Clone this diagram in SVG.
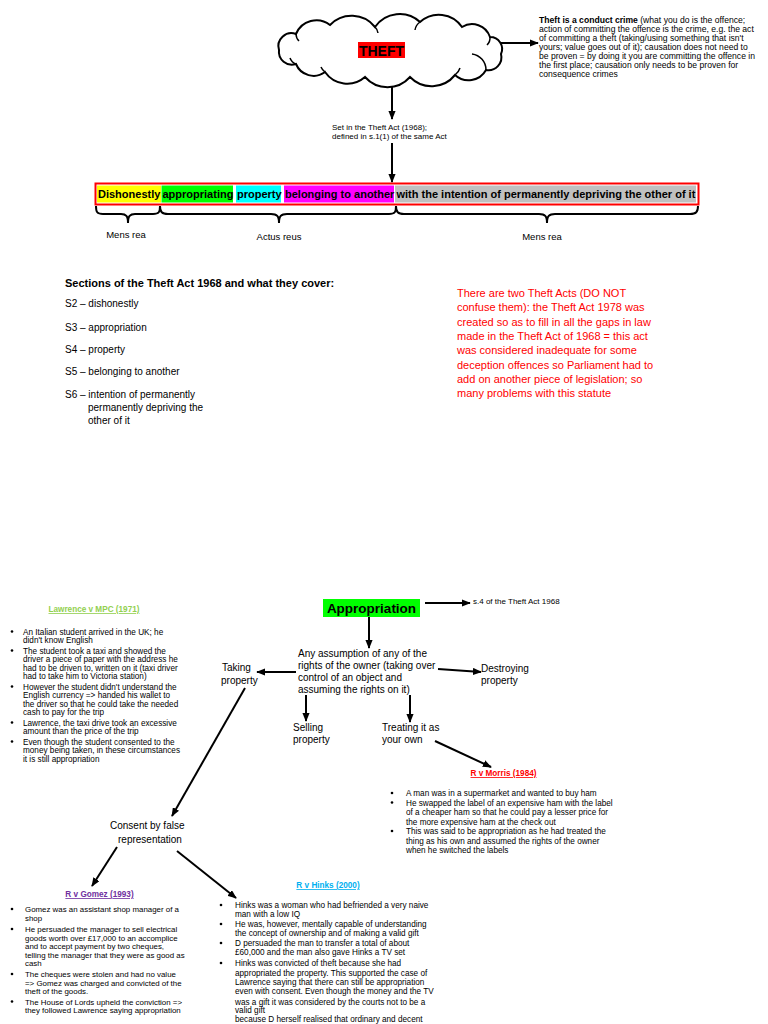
<svg xmlns="http://www.w3.org/2000/svg" width="768" height="1024" viewBox="0 0 768 1024">
<defs>
<style>
text{font-family:"Liberation Sans",Arial,sans-serif;fill:#000}
.b{font-weight:bold}
.s8{font-size:8.2px}
.s7{font-size:7.9px}
.s10{font-size:10px}
.red{fill:#ff0000;font-size:11px}
.cond line,.cond path{stroke:#000;stroke-width:2;fill:none}
.arr{marker-end:url(#ah)}
.brace{stroke:#000;stroke-width:2;fill:none}
.case{font-weight:bold;font-size:8.2px;text-decoration:underline;text-anchor:middle}
.dot{fill:#000}
</style>
<marker id="ah" viewBox="0 0 10 8" refX="9" refY="4" markerWidth="9" markerHeight="7.2" markerUnits="userSpaceOnUse" orient="auto">
<path d="M0,0 L10,4 L0,8 z" fill="#000"/>
</marker>
</defs>
<rect width="768" height="1024" fill="#fff"/>

<g id="theft-cloud">
<path d="M279,50 A13,13 0 0 1 296,34 A22,22 0 0 1 330,25 A30,30 0 0 1 375,27 A30,30 0 0 1 420,22 A28,28 0 0 1 462,27 A19,19 0 0 1 490,37 A12,12 0 0 1 501,54 A13,13 0 0 1 486,70 A20,20 0 0 1 455,75 A30,30 0 0 1 410,77 A30,30 0 0 1 365,77 A27,27 0 0 1 325,72 A19,19 0 0 1 296,64 A13,13 0 0 1 279,50 Z" fill="#fff" stroke="#000" stroke-width="2"/>
<path d="M296,64 A10,10 0 0 1 290,58 M325,72 A12,12 0 0 1 321,67 M455,75 A14,14 0 0 0 460,68 M486,70 A16,16 0 0 0 472,54 M490,37 A10,10 0 0 1 487,45 M420,22 A12,12 0 0 0 415,30 M375,27 A10,10 0 0 1 378,33 M296,34 A10,10 0 0 0 299,41" fill="none" stroke="#000" stroke-width="1.5"/>
<rect x="358" y="42" width="47" height="16" fill="#ff0000"/>
<text x="381.5" y="55.5" class="b" font-size="14" text-anchor="middle">THEFT</text>
</g>

<g id="conduct-note">
<text style="font-size:8.6px"><tspan x="539" y="23"><tspan class="b">Theft is a conduct crime</tspan> (what you do is the offence;</tspan><tspan x="539" y="32">action of committing the offence is the crime, e.g. the act</tspan><tspan x="539" y="41">of committing a theft (taking/using something that isn't</tspan><tspan x="539" y="50">yours; value goes out of it); causation does not need to</tspan><tspan x="539" y="59">be proven = by doing it you are committing the offence in</tspan><tspan x="539" y="68">the first place; causation only needs to be proven for</tspan><tspan x="539" y="77">consequence crimes</tspan></text>
</g>

<g id="set-in-act">
<text font-size="8"><tspan x="332" y="130">Set in the Theft Act (1968);</tspan><tspan x="332" y="139">defined in s.1(1) of the same Act</tspan></text>
</g>

<g id="definition-bar">
<rect x="95.5" y="183.5" width="603" height="21" fill="none" stroke="#ff0000" stroke-width="2"/>
<rect x="97" y="185.5" width="64" height="17" fill="#ffff00"/>
<rect x="161.5" y="185.5" width="71.5" height="17" fill="#00ff00"/>
<rect x="236" y="185.5" width="45" height="17" fill="#00ffff"/>
<rect x="284" y="185.5" width="110" height="17" fill="#ff00ff"/>
<rect x="395" y="185.5" width="301" height="17" fill="#c0c0c0"/>
<g class="b" font-size="11">
<text x="98" y="198">Dishonestly</text>
<text x="162.5" y="198">appropriating</text>
<text x="237" y="198">property</text>
<text x="285" y="198">belonging to another</text>
<text x="396.5" y="198">with the intention of permanently depriving the other of it</text>
</g>
</g>

<g id="braces">
<path class="brace" d="M96,206 C96,212 97,214 103,214 L121,214 C126,214 128,216 128,223 C128,216 130,214 135,214 L153,214 C159,214 160,212 160,206"/>
<path class="brace" d="M160,206 C160,212 162,214 168,214 L271,214 C277,214 279,216 279,223 C279,216 281,214 287,214 L389,214 C395,214 396,212 396,206"/>
<path class="brace" d="M396,206 C396,212 398,214 404,214 L539,214 C545,214 547,216 547,223 C547,216 549,214 555,214 L690,214 C696,214 698,212 698,206"/>
<text x="126" y="238" font-size="9.5" text-anchor="middle">Mens rea</text>
<text x="279" y="240" font-size="9.5" text-anchor="middle">Actus reus</text>
<text x="542" y="240" font-size="9.5" text-anchor="middle">Mens rea</text>
</g>

<g id="sections">
<text x="65" y="287" class="b" font-size="11">Sections of the Theft Act 1968 and what they cover:</text>
<text font-size="10"><tspan x="65" y="307">S2 – dishonestly</tspan><tspan x="65" y="330.5">S3 – appropriation</tspan><tspan x="65" y="352.5">S4 – property</tspan><tspan x="65" y="374.5">S5 – belonging to another</tspan><tspan x="65" y="397.5">S6 – intention of permanently</tspan><tspan x="88" y="410.5">permanently depriving the</tspan><tspan x="88" y="423.5">other of it</tspan></text>
</g>

<g id="two-acts-note">
<text class="red"><tspan x="457" y="297">There are two Theft Acts (DO NOT</tspan><tspan x="457" y="311.3">confuse them): the Theft Act 1978 was</tspan><tspan x="457" y="325.6">created so as to fill in all the gaps in law</tspan><tspan x="457" y="339.9">made in the Theft Act of 1968 = this act</tspan><tspan x="457" y="354.2">was considered inadequate for some</tspan><tspan x="457" y="368.5">deception offences so Parliament had to</tspan><tspan x="457" y="382.8">add on another piece of legislation; so</tspan><tspan x="457" y="397.1">many problems with this statute</tspan></text>
</g>

<g id="appropriation">
<rect x="323" y="599" width="97" height="18" fill="#00ff00"/>
<text x="371.5" y="613" class="b" font-size="13.5" text-anchor="middle">Appropriation</text>
</g>

<g id="s4-note">
<text x="473" y="604" font-size="8">s.4 of the Theft Act 1968</text>
</g>

<g id="assumption">
<text class="s10"><tspan x="298" y="657">Any assumption of any of the</tspan><tspan x="298" y="669">rights of the owner (taking over</tspan><tspan x="298" y="681">control of an object and</tspan><tspan x="298" y="693">assuming the rights on it)</tspan></text>
</g>

<g id="taking">
<text class="s10"><tspan x="222" y="671">Taking</tspan><tspan x="221" y="684">property</tspan></text>
</g>
<g id="destroying">
<text class="s10"><tspan x="481" y="672">Destroying</tspan><tspan x="481" y="684">property</tspan></text>
</g>
<g id="selling">
<text class="s10"><tspan x="293" y="731">Selling</tspan><tspan x="293" y="743">property</tspan></text>
</g>
<g id="treating">
<text class="s10"><tspan x="382" y="731">Treating it as</tspan><tspan x="382" y="743">your own</tspan></text>
</g>

<g id="lawrence">
<text x="94" y="612" class="case" style="fill:#92d050">Lawrence v MPC (1971)</text>
<g class="dot"><circle cx="12" cy="631.5" r="1.3"/><circle cx="12" cy="650.5" r="1.3"/><circle cx="12" cy="686.5" r="1.3"/><circle cx="12" cy="722.5" r="1.3"/><circle cx="12" cy="741.5" r="1.3"/></g>
<text class="s8"><tspan x="23" y="634.5">An Italian student arrived in the UK; he</tspan><tspan x="23" y="643">didn't know English</tspan><tspan x="23" y="653.5">The student took a taxi and showed the</tspan><tspan x="23" y="662">driver a piece of paper with the address he</tspan><tspan x="23" y="670.5">had to be driven to, written on it (taxi driver</tspan><tspan x="23" y="679">had to take him to Victoria station)</tspan><tspan x="23" y="689.5">However the student didn't understand the</tspan><tspan x="23" y="698">English currency =&gt; handed his wallet to</tspan><tspan x="23" y="706.5">the driver so that he could take the needed</tspan><tspan x="23" y="715">cash to pay for the trip</tspan><tspan x="23" y="725.5">Lawrence, the taxi drive took an excessive</tspan><tspan x="23" y="734">amount than the price of the trip</tspan><tspan x="23" y="744.5">Even though the student consented to the</tspan><tspan x="23" y="753">money being taken, in these circumstances</tspan><tspan x="23" y="761.5">it is still appropriation</tspan></text>
</g>

<g id="morris">
<text x="503.5" y="776" class="case" style="fill:#ff0000">R v Morris (1984)</text>
<g class="dot"><circle cx="392" cy="793" r="1.3"/><circle cx="392" cy="802.5" r="1.3"/><circle cx="392" cy="831" r="1.3"/></g>
<text class="s8"><tspan x="406" y="796">A man was in a supermarket and wanted to buy ham</tspan><tspan x="406" y="805.5">He swapped the label of an expensive ham with the label</tspan><tspan x="406" y="815">of a cheaper ham so that he could pay a lesser price for</tspan><tspan x="406" y="824.5">the more expensive ham at the check out</tspan><tspan x="406" y="834">This was said to be appropriation as he had treated the</tspan><tspan x="406" y="843.5">thing as his own and assumed the rights of the owner</tspan><tspan x="406" y="853">when he switched the labels</tspan></text>
</g>

<g id="consent">
<text class="s10"><tspan x="110" y="828.5">Consent by false</tspan><tspan x="118" y="842.5">representation</tspan></text>
</g>

<g id="gomez">
<text x="99.5" y="897" class="case" style="fill:#7030a0">R v Gomez (1993)</text>
<g class="dot"><circle cx="12" cy="909" r="1.3"/><circle cx="12" cy="929" r="1.3"/><circle cx="12" cy="974" r="1.3"/><circle cx="12" cy="1001.5" r="1.3"/></g>
<text class="s7"><tspan x="25" y="912">Gomez was an assistant shop manager of a</tspan><tspan x="25" y="920.5">shop</tspan><tspan x="25" y="932">He persuaded the manager to sell electrical</tspan><tspan x="25" y="940.5">goods worth over £17,000 to an accomplice</tspan><tspan x="25" y="949">and to accept payment by two cheques,</tspan><tspan x="25" y="957.5">telling the manager that they were as good as</tspan><tspan x="25" y="966">cash</tspan><tspan x="25" y="977">The cheques were stolen and had no value</tspan><tspan x="25" y="985.5">=&gt; Gomez was charged and convicted of the</tspan><tspan x="25" y="994">theft of the goods.</tspan><tspan x="25" y="1004.5">The House of Lords upheld the conviction =&gt;</tspan><tspan x="25" y="1013">they followed Lawrence saying appropriation</tspan></text>
</g>

<g id="hinks">
<text x="328" y="888" class="case" style="fill:#00b0f0">R v Hinks (2000)</text>
<g class="dot"><circle cx="221" cy="905" r="1.3"/><circle cx="221" cy="924" r="1.3"/><circle cx="221" cy="943" r="1.3"/><circle cx="221" cy="963" r="1.3"/></g>
<text class="s8"><tspan x="235" y="908">Hinks was a woman who had befriended a very naive</tspan><tspan x="235" y="917">man with a low IQ</tspan><tspan x="235" y="927">He was, however, mentally capable of understanding</tspan><tspan x="235" y="936">the concept of ownership and of making a valid gift</tspan><tspan x="235" y="946">D persuaded the man to transfer a total of about</tspan><tspan x="235" y="955">£60,000 and the man also gave Hinks a TV set</tspan><tspan x="235" y="966">Hinks was convicted of theft because she had</tspan><tspan x="235" y="976">appropriated the property. This supported the case of</tspan><tspan x="235" y="985">Lawrence saying that there can still be appropriation</tspan><tspan x="235" y="994">even with consent. Even though the money and the TV</tspan><tspan x="235" y="1005">was a gift it was considered by the courts not to be a</tspan><tspan x="235" y="1013">valid gift</tspan><tspan x="235" y="1022">because D herself realised that ordinary and decent</tspan></text>
</g>

<g id="connectors" class="cond">
<line class="arr" x1="501" y1="43" x2="538" y2="43"/>
<line class="arr" x1="392" y1="86" x2="392" y2="119"/>
<line class="arr" x1="392" y1="143" x2="392" y2="182"/>
<line class="arr" x1="425" y1="603" x2="470" y2="603"/>
<line class="arr" x1="369" y1="617" x2="369" y2="648"/>
<line class="arr" x1="296" y1="672" x2="257" y2="672"/>
<line class="arr" x1="438" y1="669" x2="481" y2="672"/>
<line class="arr" x1="306" y1="695" x2="306" y2="721"/>
<line class="arr" x1="410" y1="695" x2="410" y2="722"/>
<line class="arr" x1="435" y1="741" x2="491" y2="767"/>
<line class="arr" x1="245" y1="688" x2="172" y2="816"/>
<line class="arr" x1="117" y1="847" x2="92" y2="886"/>
<line class="arr" x1="177" y1="851" x2="236" y2="898"/>
</g>
</svg>
